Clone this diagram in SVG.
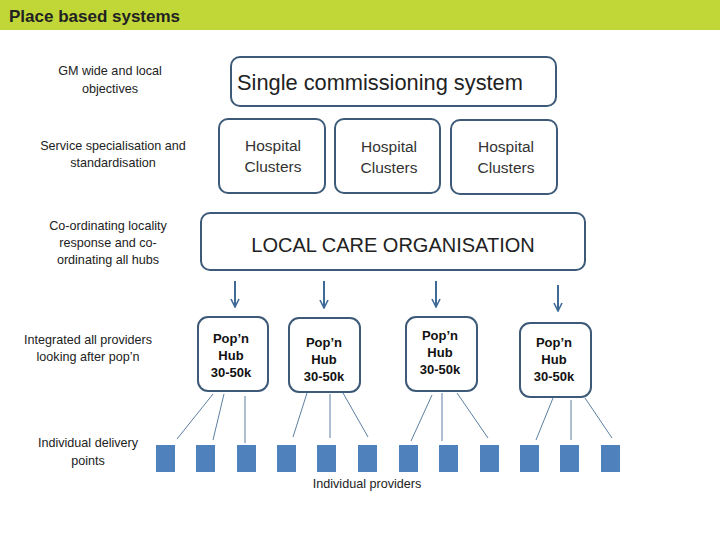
<svg xmlns="http://www.w3.org/2000/svg" width="720" height="540" viewBox="0 0 720 540">
<style>
.box{fill:#fff;stroke:#3d5a78;stroke-width:2}
.t{font-family:"Liberation Sans",Arial,sans-serif;fill:#222}
.lbl{font-family:"Liberation Sans",Arial,sans-serif;font-size:12.6px;fill:#222;text-anchor:middle}
.hub{font-family:"Liberation Sans",Arial,sans-serif;font-size:13px;font-weight:bold;fill:#111;text-anchor:middle}
.hc{font-family:"Liberation Sans",Arial,sans-serif;font-size:15.5px;fill:#333;text-anchor:middle}
.sq{fill:#4f81bd}
.ln{stroke:#5c7fa3;stroke-width:1;fill:none}
.ar{stroke:#3f6a96;stroke-width:2;fill:none;marker-end:url(#ah)}
</style>
<defs>
<marker id="ah" viewBox="0 0 10 10" refX="9" refY="5" markerWidth="5" markerHeight="5" orient="auto" markerUnits="strokeWidth">
<path d="M1,1 L9,5 L1,9" fill="none" stroke="#3f6a96" stroke-width="1.6"/>
</marker>
</defs>
<rect width="720" height="540" fill="#fff"/>
<g id="header">
<rect x="0" y="0" width="720" height="30" fill="#c1d738"/>
<text x="9" y="22" class="t" font-size="17" font-weight="bold" fill="#000">Place based systems</text>
</g>
<g id="labels">
<text class="lbl" x="110" y="75">GM wide and local</text>
<text class="lbl" x="110" y="93">objectives</text>
<text class="lbl" x="113" y="150">Service specialisation and</text>
<text class="lbl" x="113" y="167">standardisation</text>
<text class="lbl" x="108" y="230">Co-ordinating locality</text>
<text class="lbl" x="108" y="247">response and co-</text>
<text class="lbl" x="108" y="264">ordinating all hubs</text>
<text class="lbl" x="88" y="344">Integrated all providers</text>
<text class="lbl" x="88" y="361">looking after pop’n</text>
<text class="lbl" x="88" y="447">Individual delivery</text>
<text class="lbl" x="88" y="465">points</text>
<text class="lbl" x="367" y="488">Individual providers</text>
</g>
<g id="scs">
<rect class="box" x="231" y="57" width="325" height="49" rx="9"/>
<text class="t" x="237" y="90" font-size="21.8" fill="#111">Single commissioning system</text>
</g>
<g id="hc1">
<rect class="box" x="219" y="119" width="106" height="74" rx="9"/>
<text class="hc" x="273" y="151">Hospital</text>
<text class="hc" x="273" y="172">Clusters</text>
</g>
<g id="hc2">
<rect class="box" x="335" y="119" width="105" height="74" rx="9"/>
<text class="hc" x="389" y="152">Hospital</text>
<text class="hc" x="389" y="173">Clusters</text>
</g>
<g id="hc3">
<rect class="box" x="451" y="120" width="106" height="74" rx="9"/>
<text class="hc" x="506" y="152">Hospital</text>
<text class="hc" x="506" y="173">Clusters</text>
</g>
<g id="lco">
<rect class="box" x="201" y="213" width="384" height="57" rx="9"/>
<text class="t" x="393" y="252" font-size="20" fill="#111" text-anchor="middle">LOCAL CARE ORGANISATION</text>
</g>
<g id="hub1">
<rect class="box" x="198" y="317" width="70" height="74" rx="10"/>
<text class="hub" x="231" y="343">Pop’n</text>
<text class="hub" x="231" y="360">Hub</text>
<text class="hub" x="231" y="377">30-50k</text>
</g>
<g id="hub2">
<rect class="box" x="289" y="318" width="71" height="74" rx="10"/>
<text class="hub" x="324" y="347">Pop’n</text>
<text class="hub" x="324" y="364">Hub</text>
<text class="hub" x="324" y="381">30-50k</text>
</g>
<g id="hub3">
<rect class="box" x="406" y="317" width="71" height="74" rx="10"/>
<text class="hub" x="440" y="340">Pop’n</text>
<text class="hub" x="440" y="357">Hub</text>
<text class="hub" x="440" y="374">30-50k</text>
</g>
<g id="hub4">
<rect class="box" x="520" y="323" width="71" height="74" rx="10"/>
<text class="hub" x="554" y="347">Pop’n</text>
<text class="hub" x="554" y="364">Hub</text>
<text class="hub" x="554" y="381">30-50k</text>
</g>
<g id="points">
<rect class="sq" x="156" y="445" width="19" height="27"/>
<rect class="sq" x="196" y="445" width="19" height="27"/>
<rect class="sq" x="237" y="445" width="19" height="27"/>
<rect class="sq" x="277" y="445" width="19" height="27"/>
<rect class="sq" x="317" y="445" width="19" height="27"/>
<rect class="sq" x="358" y="445" width="19" height="27"/>
<rect class="sq" x="399" y="445" width="19" height="27"/>
<rect class="sq" x="439" y="445" width="19" height="27"/>
<rect class="sq" x="480" y="445" width="19" height="27"/>
<rect class="sq" x="520" y="445" width="19" height="27"/>
<rect class="sq" x="560" y="445" width="19" height="27"/>
<rect class="sq" x="601" y="445" width="19" height="27"/>
</g>
<g id="connectors">
<line class="ar" x1="235" y1="281" x2="235" y2="307"/>
<line class="ar" x1="324" y1="281" x2="324" y2="308"/>
<line class="ar" x1="436" y1="281" x2="436" y2="307"/>
<line class="ar" x1="558" y1="285" x2="558" y2="311"/>
<line class="ln" x1="213" y1="394" x2="177" y2="439"/>
<line class="ln" x1="224" y1="394" x2="213" y2="440"/>
<line class="ln" x1="245" y1="396" x2="245" y2="443"/>
<line class="ln" x1="307" y1="393" x2="293" y2="437"/>
<line class="ln" x1="330" y1="394" x2="330" y2="438"/>
<line class="ln" x1="343" y1="393" x2="368" y2="437"/>
<line class="ln" x1="432" y1="395" x2="411" y2="441"/>
<line class="ln" x1="442" y1="393" x2="442" y2="441"/>
<line class="ln" x1="457" y1="393" x2="488" y2="438"/>
<line class="ln" x1="553" y1="398" x2="536" y2="440"/>
<line class="ln" x1="571" y1="400" x2="571" y2="440"/>
<line class="ln" x1="585" y1="398" x2="612" y2="438"/>
</g>
</svg>
